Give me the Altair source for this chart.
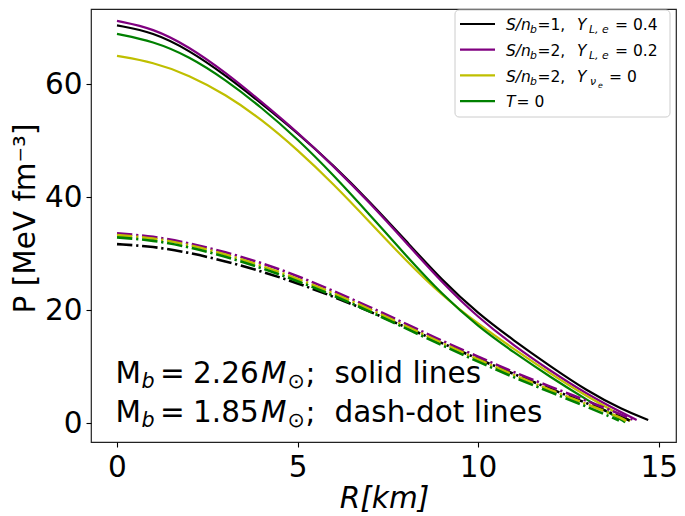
import altair as alt
import pandas as pd

# ---------------- data ----------------
SERIES = ["S/nb=1, YLe=0.4", "S/nb=2, YLe=0.2", "S/nb=2, Ynue=0", "T=0"]
COLORS = ["#000000", "#800080", "#bfbf00", "#008000"]

# solid lines: M_b = 2.26 Msun
R_SOLID_BLACK = [0, 1, 2, 3, 4, 5, 6, 7, 8, 9, 10, 11, 12, 13, 14, 14.71]
P_SOLID_BLACK = [70.4, 69.2, 66.0, 61.6, 56.6, 51.4, 45.6, 39.2, 32.3, 25.3, 19.4, 14.6, 10.1, 5.8, 2.4, 0.6]
R_SOLID_PURPLE = [0, 1, 2, 3, 4, 5, 6, 7, 8, 9, 10, 11, 12, 13, 14, 14.39]
P_SOLID_PURPLE = [71.2, 69.9, 66.6, 62.1, 56.9, 51.5, 45.5, 39.0, 32.0, 24.9, 18.7, 13.7, 9.3, 5.2, 1.8, 0.6]
R_SOLID_YELLOW = [0, 1, 2, 3, 4, 5, 6, 7, 8, 9, 10, 11, 12, 13, 14, 14.21]
P_SOLID_YELLOW = [65.0, 63.9, 61.6, 58.2, 53.8, 48.4, 42.3, 35.6, 28.8, 22.6, 17.6, 13.1, 8.8, 4.8, 1.3, 0.4]
R_SOLID_GREEN = [0, 1, 2, 3, 4, 5, 6, 7, 8, 9, 10, 11, 12, 13, 14, 14.07]
P_SOLID_GREEN = [68.9, 67.6, 64.9, 60.8, 55.9, 50.3, 43.9, 36.9, 29.7, 22.8, 17.1, 12.5, 8.2, 4.2, 0.5, 0.15]

# dash-dot lines: M_b = 1.85 Msun
R_DD_BLACK = [0, 1, 2, 3, 4, 5, 6, 7, 8, 9, 10, 11, 12, 13, 14, 14.2]
P_DD_BLACK = [31.7, 31.3, 30.2, 28.7, 26.9, 24.8, 22.4, 19.8, 17.0, 14.2, 11.4, 8.7, 6.1, 3.6, 1.0, 0.5]
R_DD_PURPLE = [0, 1, 2, 3, 4, 5, 6, 7, 8, 9, 10, 11, 12, 13, 14, 14.3]
P_DD_PURPLE = [33.6, 33.1, 31.9, 30.3, 28.4, 26.1, 23.4, 20.6, 17.6, 14.6, 11.8, 9.0, 6.5, 4.0, 1.5, 0.6]
R_DD_YELLOW = [0, 1, 2, 3, 4, 5, 6, 7, 8, 9, 10, 11, 12, 13, 14, 14.1]
P_DD_YELLOW = [33.3, 32.8, 31.6, 29.9, 27.9, 25.6, 23.0, 20.2, 17.2, 14.2, 11.3, 8.5, 5.9, 3.4, 0.9, 0.4]
R_DD_GREEN = [0, 1, 2, 3, 4, 5, 6, 7, 8, 9, 10, 11, 12, 13, 13.9]
P_DD_GREEN = [32.9, 32.4, 31.2, 29.5, 27.5, 25.2, 22.6, 19.8, 16.8, 13.8, 10.9, 8.1, 5.5, 3.0, 0.5]

X_TICKS = [0, 5, 10, 15]
Y_TICKS = [0, 20, 40, 60]

# ---------------- styling ----------------
FONT = "DejaVu Sans"
BIG = 29.5
LEG = 15.5

xs = alt.Scale(domain=[-0.72, 15.48], nice=False, zero=False)
ys = alt.Scale(domain=[-3.3, 73.3], nice=False, zero=False)

xaxis = alt.Axis(values=X_TICKS, format="d", title="R[km]", titleFontStyle="italic",
                 titleFontSize=BIG, titleFontWeight="normal", titleX=293, titleY=65,
                 titleAlign="center", titleBaseline="alphabetic",
                 labelFontSize=BIG, labelPadding=6, tickSize=5, grid=False, domain=False,
                 labelFlush=False, labelOverlap=False)
yaxis = alt.Axis(values=Y_TICKS, format="d", title="P [MeV fm⁻³]", titleAngle=270,
                 titleFontSize=BIG, titleFontWeight="normal", titleX=-66, titleY=209,
                 titleAlign="center", titleBaseline="middle",
                 labelFontSize=BIG, labelPadding=4, tickSize=5, grid=False, domain=False,
                 labelOverlap=False)


def curve(rs, ps, color, dash):
    df = pd.DataFrame({"R": rs, "P": ps})
    kw = dict(color=color, interpolate="basis", strokeCap="butt")
    if dash:
        kw["strokeWidth"] = 2.6
        kw["strokeDash"] = [15.5, 3.7, 2.3, 3.7]
    else:
        kw["strokeWidth"] = 2.2
    return alt.Chart(df).mark_line(**kw).encode(
        x=alt.X("R:Q", scale=xs, axis=xaxis),
        y=alt.Y("P:Q", scale=ys, axis=yaxis),
    )


layers = [
    curve(R_SOLID_BLACK, P_SOLID_BLACK, COLORS[0], False),
    curve(R_SOLID_PURPLE, P_SOLID_PURPLE, COLORS[1], False),
    curve(R_SOLID_YELLOW, P_SOLID_YELLOW, COLORS[2], False),
    curve(R_SOLID_GREEN, P_SOLID_GREEN, COLORS[3], False),
    curve(R_DD_BLACK, P_DD_BLACK, COLORS[0], True),
    curve(R_DD_PURPLE, P_DD_PURPLE, COLORS[1], True),
    curve(R_DD_YELLOW, P_DD_YELLOW, COLORS[2], True),
    curve(R_DD_GREEN, P_DD_GREEN, COLORS[3], True),
]

one = pd.DataFrame({"k": [0]})


def txt(s, x, y, size, italic=False):
    return alt.Chart(one).mark_text(
        font=FONT, fontSize=size, fontStyle="italic" if italic else "normal",
        align="left", baseline="alphabetic", color="black",
    ).encode(x=alt.value(x), y=alt.value(y), text=alt.value(s))


# annotation text (plot-area pixel positions)
SUB = BIG * 0.7
for base, mass, rest in [(374, "2.26", "solid lines"), (413, "1.85", "dash-dot lines")]:
    layers += [
        txt("M", 24.5, base, BIG),
        txt("b", 50.5, base + 5, SUB, True),
        txt("=", 69, base, BIG),
        txt(mass, 102, base, BIG),
        txt("M", 170, base, BIG, True),
        txt("⊙", 196.5, base + 5, SUB),
        txt(";", 214.5, base, BIG),
        txt(rest, 243.5, base, BIG),
    ]

# legend box
DX = -5
layers.append(
    alt.Chart(one).mark_rect(fill="white", fillOpacity=0.8, stroke="#cccccc",
                             strokeWidth=1, cornerRadius=4)
    .encode(x=alt.value(369 + DX), x2=alt.value(584 + DX), y=alt.value(1), y2=alt.value(108))
)
LSUB = LEG * 0.7
for i, c in enumerate(COLORS):
    ly = 15 + 25.7 * i
    layers.append(
        alt.Chart(one).mark_rule(color=c, strokeWidth=2.2)
        .encode(x=alt.value(374 + DX), x2=alt.value(409 + DX), y=alt.value(ly))
    )
rows = [20.5, 46.5, 72.5, 97.5]
for j, (eqv, yval) in enumerate([("=1,", "= 0.4"), ("=2,", "= 0.2")]):
    b = rows[j]
    layers += [
        txt("S/n", 420 + DX, b, LEG, True),
        txt("b", 444 + DX, b + 3.5, LSUB, True),
        txt(eqv, 451.5 + DX, b, LEG),
        txt("Y", 491 + DX, b, LEG, True),
        txt("L, e", 503 + DX, b + 3.5, LSUB, True),
        txt(yval, 529 + DX, b, LEG),
    ]
b = rows[2]
layers += [
    txt("S/n", 420 + DX, b, LEG, True),
    txt("b", 444 + DX, b + 3.5, LSUB, True),
    txt("=2,", 451.5 + DX, b, LEG),
    txt("Y", 491 + DX, b, LEG, True),
    txt("ν", 504 + DX, b + 3.5, LSUB, True),
    txt("e", 512 + DX, b + 6, LEG * 0.5, True),
    txt("= 0", 523 + DX, b, LEG),
]
b = rows[3]
layers += [
    txt("T", 420 + DX, b, LEG, True),
    txt("= 0", 430.5 + DX, b, LEG),
]

chart = alt.layer(*layers).properties(
    width=585, height=433,
    autosize=alt.AutoSizeParams(type="none"),
    padding={"left": 83, "top": 1, "right": 1, "bottom": 72},
).configure_view(
    stroke="#222222", strokeWidth=1.2
).configure_axis(
    labelFont=FONT, titleFont=FONT, labelColor="black", titleColor="black",
    tickColor="black", tickWidth=1.1,
)

chart.save("out.html", embed_options={"renderer": "svg", "actions": False})
